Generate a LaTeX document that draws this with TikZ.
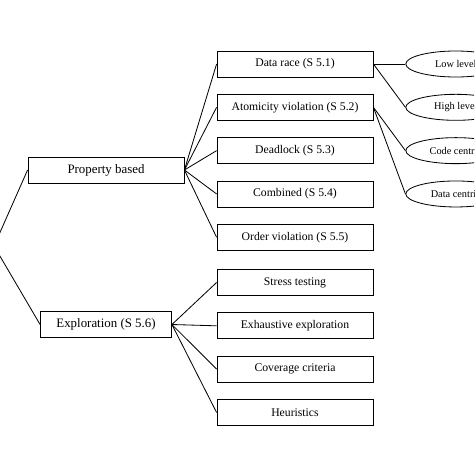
\documentclass[tikz,border=0pt]{standalone}
\usepackage{fontspec}
\setmainfont{Liberation Serif}
\usepackage{tikz}
\usetikzlibrary{positioning, shapes.geometric}
\tikzset{
  topbox/.style={
    rectangle,
    draw=black,
    align=center,
    font=\fontsize{11}{13}\selectfont,
    minimum width=4.68cm,
    minimum height=0.78cm
  },
  box/.style={
    rectangle,
    draw=black,
    align=center,
    font=\fontsize{10}{12}\selectfont,
    minimum width=4.68cm,
    minimum height=0.78cm
  },
  oval/.style={
    ellipse,
    draw=black,
    inner sep=0pt,
    font=\fontsize{8.8}{10}\selectfont,
    minimum width=3.0cm,
    minimum height=0.78cm
  },
  link/.style={
    line width=0.7pt
  }
}

\begin{document}
\begin{tikzpicture}[x=0.03cm, y=-0.03cm, node distance=0.495cm and 0.96cm, line width=0.7pt]
    \clip (0,0) rectangle (474,474);
    % root sits just off the left edge
    \coordinate (root) at (-6,246);

    \node[topbox] (prop) at (106,170) {Property based};
    \node[topbox, minimum width=3.93cm] (expl) at (106,324.5) {Exploration (S 5.6)};

    \node[box] (race) at (295,64) {Data race (S 5.1)};
    \node[box, below=of race] (atom) {Atomicity violation (S 5.2)};
    \node[box, below=of atom] (dead) {Deadlock (S 5.3)};
    \node[box, below=of dead] (comb) {Combined (S 5.4)};
    \node[box, below=of comb] (order) {Order violation (S 5.5)};

    \node[box] (stress) at (295,282.5) {Stress testing};
    \node[box, below=of stress] (exhaust) {Exhaustive exploration};
    \node[box, below=of exhaust] (cover) {Coverage criteria};
    \node[box, below=of cover] (heur) {Heuristics};

    \node[oval, right=of race] (low) {Low level};
    \node[oval, right=of atom] (high) {High level};
    \node[oval, right=of dead] (code) {Code centric};
    \node[oval, right=of comb] (data) {Data centric};

    \draw[link] (root) -- (prop.west);
    \draw[link] (root) -- (expl.west);
    \foreach \n in {race, atom, dead, comb, order}
        \draw[link] (prop.east) -- (\n.west);
    \foreach \n in {stress, exhaust, cover, heur}
        \draw[link] (expl.east) -- (\n.west);
    \draw[link] (race.east) -- (low.west);
    \draw[link] (race.east) -- (high.west);
    \draw[link] (atom.east) -- (code.west);
    \draw[link] (atom.east) -- (data.west);
\end{tikzpicture}
\end{document}
